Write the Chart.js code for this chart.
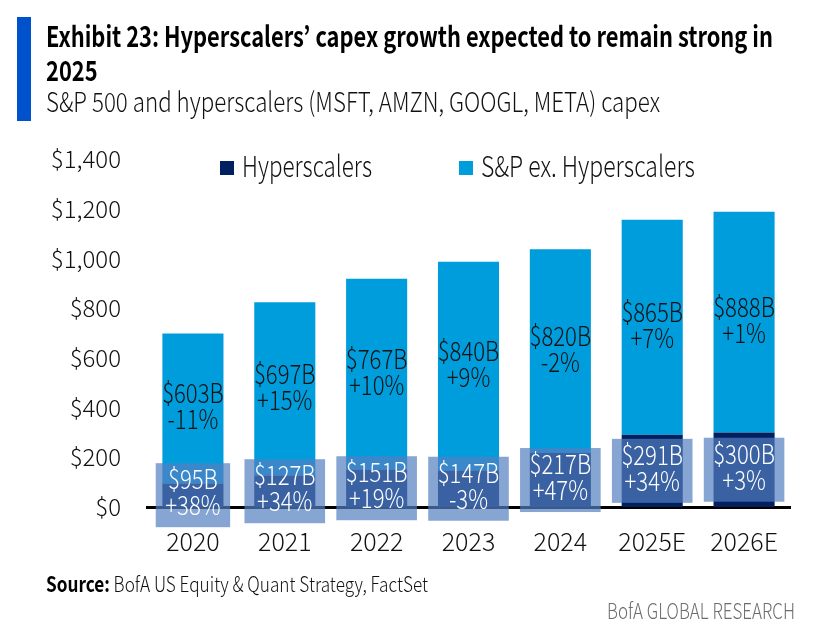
<!DOCTYPE html>
<html>
<head>
<meta charset="utf-8">
<title>Hyperscalers capex</title>
<script src="https://cdn.jsdelivr.net/npm/chart.js@4.4.1/dist/chart.umd.min.js"></script>
<style>
  html, body { margin: 0; padding: 0; background: #fff; }
  #wrap { width: 824px; height: 643px; }
</style>
</head>
<body>
<div id="wrap"><canvas id="capexChart" width="824" height="643"></canvas></div>
<script>
// values ($B)
const years = ["2020", "2021", "2022", "2023", "2024", "2025E", "2026E"];
const hyperscalers = [95, 127, 151, 147, 217, 291, 300];
const spExHyper = [603, 697, 767, 840, 820, 865, 888];
const hyperGrowth = [38, 34, 19, -3, 47, 34, 3];
const spExGrowth = [-11, 15, 10, 9, -2, 7, 1];
const yTicks = [0, 200, 400, 600, 800, 1000, 1200, 1400];

const FONT = "'Noto Sans CJK JP', 'Noto Sans', sans-serif";
const NAVY = "#002060";
const BLUE = "#009ddc";
const SQUEEZE = 0.82;   // the exhibit uses a condensed face

function pct(v) {
    return (v > 0 ? "+" : "") + v + "%";
}

// draw text squeezed to a given width
function drawFitted(ctx, parts, x, y, width, align) {
    ctx.save();
    ctx.textBaseline = "alphabetic";
    ctx.textAlign = "left";
    let total = 0;
    parts.forEach(p => { ctx.font = p.font; p.w = ctx.measureText(p.text).width; total += p.w; });
    const sx = width / total;
    ctx.translate(align === "right" ? x - width : x, y);
    ctx.scale(sx, 1);
    let cx = 0;
    parts.forEach(p => {
        ctx.font = p.font;
        ctx.fillStyle = p.color;
        ctx.fillText(p.text, cx, 0);
        cx += p.w;
    });
    ctx.restore();
    return sx;
}

// centred text with a fixed horizontal squeeze
function drawSqueezed(ctx, text, x, y) {
    ctx.save();
    ctx.translate(x, y);
    ctx.scale(SQUEEZE, 1);
    ctx.fillText(text, 0, 0);
    ctx.restore();
}

const headerPlugin = {
    id: "header",
    afterDraw(chart) {
        const ctx = chart.ctx;
        ctx.save();
        ctx.fillStyle = "#0052cc";
        ctx.fillRect(17, 17, 14, 104);
        ctx.restore();

        const tFont = "bold 28px " + FONT;
        const sx = drawFitted(ctx, [{ text: "Exhibit 23: Hyperscalers\u2019 capex growth expected to remain strong in", font: tFont, color: "#000" }], 46, 47, 727);
        ctx.save();
        ctx.font = tFont;
        const w2 = ctx.measureText("2025").width * sx;
        ctx.restore();
        drawFitted(ctx, [{ text: "2025", font: tFont, color: "#000" }], 46, 81, w2);

        drawFitted(ctx, [{ text: "S&P 500 and hyperscalers (MSFT, AMZN, GOOGL, META) capex", font: "300 27px " + FONT, color: "#111" }], 46, 112, 614);

        drawFitted(ctx, [
            { text: "Source:", font: "bold 21px " + FONT, color: "#000" },
            { text: " BofA US Equity & Quant Strategy, FactSet", font: "300 21px " + FONT, color: "#111" }
        ], 46, 592, 382);

        drawFitted(ctx, [{ text: "BofA GLOBAL RESEARCH", font: "300 22px " + FONT, color: "#6d6d6d" }], 795, 619, 188, "right");

        // legend inside the plot area
        const lx = [220, 459];
        const lw = [130, 214];
        chart.data.datasets.forEach((ds, i) => {
            ctx.save();
            ctx.fillStyle = ds.backgroundColor;
            ctx.fillRect(lx[i], 161, 14, 14);
            ctx.restore();
            drawFitted(ctx, [{ text: ds.label, font: "300 29px " + FONT, color: "#111" }], lx[i] + 22, 177, lw[i]);
        });
    }
};

const labelPlugin = {
    id: "segmentLabels",
    afterDatasetsDraw(chart) {
        const ctx = chart.ctx;
        const hyperMeta = chart.getDatasetMeta(0);
        const spMeta = chart.getDatasetMeta(1);
        ctx.save();
        ctx.textAlign = "center";
        ctx.textBaseline = "alphabetic";
        ctx.font = "300 27px " + FONT;

        spMeta.data.forEach((bar, i) => {
            const cy = (bar.y + bar.base) / 2;
            ctx.fillStyle = "#111";
            drawSqueezed(ctx, "$" + spExHyper[i] + "B", bar.x, cy - 5);
            drawSqueezed(ctx, pct(spExGrowth[i]), bar.x, cy + 21);
        });

        hyperMeta.data.forEach((bar, i) => {
            const cy = (bar.y + bar.base) / 2;
            const l1 = "$" + hyperscalers[i] + "B";
            const l2 = pct(hyperGrowth[i]);
            const w = Math.max(ctx.measureText(l1).width, ctx.measureText(l2).width) * SQUEEZE + 19;
            ctx.fillStyle = "rgba(82, 127, 192, 0.7)";
            ctx.fillRect(bar.x - w / 2, cy - 32, w, 64);
            ctx.fillStyle = "#fff";
            drawSqueezed(ctx, l1, bar.x, cy - 6);
            drawSqueezed(ctx, l2, bar.x, cy + 20);
        });
        ctx.restore();
    }
};

const ctx = document.getElementById("capexChart").getContext("2d");
new Chart(ctx, {
    type: "bar",
    data: {
        labels: years,
        datasets: [
            { label: "Hyperscalers", data: hyperscalers, backgroundColor: NAVY },
            { label: "S&P ex. Hyperscalers", data: spExHyper, backgroundColor: BLUE }
        ]
    },
    options: {
        responsive: false,
        animation: false,
        layout: { padding: { top: 159, right: 34, bottom: 0, left: 0 } },
        datasets: { bar: { barPercentage: 0.665, categoryPercentage: 1.0 } },
        plugins: {
            legend: { display: false },
            tooltip: { enabled: false }
        },
        scales: {
            x: {
                stacked: true,
                grid: { display: false },
                border: { display: true, color: "#000", width: 3 },
                ticks: { color: "#111", padding: 11, font: { family: FONT, size: 25, weight: "300" } },
                afterFit: s => { s.height = 136; }
            },
            y: {
                stacked: true,
                min: 0,
                max: 1400,
                grid: { display: false },
                border: { display: false },
                afterBuildTicks: s => { s.ticks = yTicks.map(v => ({ value: v })); },
                ticks: {
                    color: "#111",
                    padding: 18,
                    font: { family: FONT, size: 24, weight: "300" },
                    callback: v => "$" + v.toLocaleString("en-US")
                },
                afterFit: s => { s.width = 147; }
            }
        }
    },
    plugins: [labelPlugin, headerPlugin]
});
</script>
</body>
</html>
